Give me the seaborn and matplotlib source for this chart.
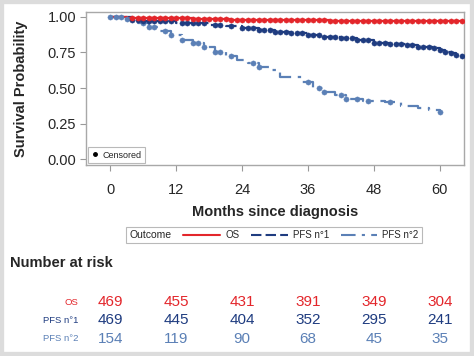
import numpy as np
import pandas as pd
import seaborn as sns
import matplotlib.pyplot as plt
from matplotlib.lines import Line2D
from matplotlib.patches import Rectangle

# Kaplan-Meier steps
os_t = [0, 3, 8, 15, 22, 30, 40, 50, 64]
os_s = [1.0, 0.995, 0.99, 0.985, 0.98, 0.977, 0.974, 0.97, 0.97]
os_cens = [4, 5, 6, 7, 8, 9, 10, 11, 12, 13, 14, 15, 16, 17, 18, 19, 20, 21, 22, 23,
           24, 25, 26, 27, 28, 29, 30, 31, 32, 33, 34, 35, 36, 37, 38, 39, 40, 41, 42,
           43, 44, 45, 46, 47, 48, 49, 50, 51, 52, 53, 54, 55, 56, 57, 58, 59, 60, 61,
           62, 63, 64]

pfs1_t = [0, 4, 6, 9, 12, 15, 18, 21, 24, 27, 30, 33, 36, 39, 42, 45, 48, 51, 54,
          56, 58, 59, 60, 61, 62, 63, 64]
pfs1_s = [1.0, 0.98, 0.975, 0.97, 0.96, 0.955, 0.945, 0.935, 0.92, 0.905, 0.895,
          0.885, 0.875, 0.862, 0.85, 0.835, 0.82, 0.81, 0.8, 0.79, 0.787, 0.78,
          0.765, 0.755, 0.745, 0.735, 0.727]
pfs1_cens = [4, 5, 6, 7, 8, 9, 10, 11, 13, 14, 15, 16, 17, 19, 20, 22, 24, 25, 26,
             27, 28, 29, 30, 31, 32, 33, 34, 35, 36, 37, 38, 39, 40, 41, 42, 43, 44,
             45, 46, 47, 48, 49, 50, 51, 52, 53, 54, 55, 56, 57, 58, 59, 60, 61, 62,
             63, 64]

pfs2_t = [0, 3, 5, 7, 9, 11, 13, 15, 17, 19, 21, 23, 25, 27, 29, 31, 35, 37, 39, 41,
          43, 46, 50, 53, 56, 58, 60]
pfs2_s = [1.0, 0.985, 0.955, 0.93, 0.9, 0.87, 0.835, 0.815, 0.79, 0.755, 0.725, 0.7,
          0.675, 0.65, 0.625, 0.58, 0.54, 0.5, 0.475, 0.45, 0.425, 0.41, 0.4, 0.375,
          0.36, 0.345, 0.33]
pfs2_cens = [0, 1, 2, 3, 6, 7, 8, 10, 11, 13, 15, 16, 17, 19, 20, 22, 26, 27, 36,
             38, 39, 42, 43, 45, 47, 51, 60]

risk_times = [0, 12, 24, 36, 48, 60]
risk_os = [469, 455, 431, 391, 349, 304]
risk_pfs1 = [469, 445, 404, 352, 295, 241]
risk_pfs2 = [154, 119, 90, 68, 45, 35]

RED = '#e3262b'
NAVY = '#1f3c80'
BLUE = '#5b80b6'

sns.set_style('white')
plt.rcParams['font.family'] = ['Liberation Sans', 'DejaVu Sans']


def at(t, s, c):
    idx = np.searchsorted(t, c, side='right') - 1
    return np.asarray(s)[idx]


fig = plt.figure(figsize=(4.74, 3.56), dpi=100)
ax = fig.add_axes([86 / 474, 1 - 165 / 356, 378 / 474, 153 / 356])

curves = [
    ('OS', os_t, os_s, os_cens, RED, '-'),
    ('PFS n°1', pfs1_t, pfs1_s, pfs1_cens, NAVY, (0, (5, 2))),
    ('PFS n°2', pfs2_t, pfs2_s, pfs2_cens, BLUE, (0, (7, 3, 1.5, 3))),
]
handles = [Line2D([], [], color='none')]
labels = ['Outcome']
for name, t, s, cens, col, ls in reversed(curves):
    df = pd.DataFrame({'t': t, 's': s})
    sns.lineplot(data=df, x='t', y='s', ax=ax, color=col, linewidth=1.6,
                 drawstyle='steps-post', estimator=None, sort=False)
    ax.lines[-1].set_linestyle(ls)
    cdf = pd.DataFrame({'t': cens, 's': at(t, s, cens)})
    sns.scatterplot(data=cdf, x='t', y='s', ax=ax, color=col, s=14,
                    edgecolor=col, linewidth=0.3, zorder=3)
for name, t, s, cens, col, ls in curves:
    handles.append(Line2D([], [], color=col, linewidth=1.5, linestyle=ls))
    labels.append(name)

ax.set_xlim(-4.4, 64.4)
ax.set_ylim(-0.042, 1.035)
ax.set_xticks(risk_times)
ax.set_yticks([0, 0.25, 0.5, 0.75, 1.0])
ax.set_yticklabels(['0.00', '0.25', '0.50', '0.75', '1.00'])
ax.tick_params(axis='both', labelsize=10.5, length=4, color='#999999',
               direction='out', pad=3, left=True, bottom=True)
ax.tick_params(axis='x', pad=9)
for sp in ax.spines.values():
    sp.set_color('#a8a8a8')
    sp.set_linewidth(1)
ax.set_xlabel('Months since diagnosis', fontsize=10.5, fontweight='bold', labelpad=6)
ax.set_ylabel('Survival Probability', fontsize=10.5, fontweight='bold', labelpad=14)

cens_leg = ax.legend(handles=[Line2D([], [], color='black', marker='o', markersize=2.5,
                                     linestyle='none')],
                     labels=['Censored'], loc='lower left', fontsize=6.5,
                     frameon=True, fancybox=False, edgecolor='#a8a8a8',
                     handlelength=0.8, handletextpad=0.4, borderpad=0.35,
                     borderaxespad=0.25)
cens_leg.get_frame().set_linewidth(0.8)

leg = fig.legend(handles=handles, labels=labels, ncol=4, loc='center',
                 bbox_to_anchor=(274 / 474, 1 - 235 / 356), fontsize=7,
                 frameon=True, fancybox=False, edgecolor='#a8a8a8',
                 handlelength=3.8, handletextpad=0.5, columnspacing=1.2,
                 borderpad=0.3)
leg.get_frame().set_linewidth(0.8)
first = leg._legend_handle_box.get_children()[0].get_children()[0]
first.get_children()[0].width = 0
first.sep = 0
leg.get_texts()[0].set_fontsize(7.5)

# Number at risk table
fig.text(10 / 474, 1 - 263 / 356, 'Number at risk', fontsize=10.5,
         fontweight='bold', va='center', ha='left')
ax2 = fig.add_axes([86 / 474, 8 / 356, 378 / 474, 55 / 356])
ax2.set_xlim(ax.get_xlim())
ax2.set_ylim(3, 0)
ax2.axis('off')
rows = [('OS', risk_os, RED), ('PFS n°1', risk_pfs1, NAVY), ('PFS n°2', risk_pfs2, BLUE)]
for i, (name, vals, col) in enumerate(rows):
    y = i + 0.5
    ax2.text(-5.8, y, name, color=col, fontsize=6.8, ha='right', va='center')
    for t, v in zip(risk_times, vals):
        ax2.text(t, y, str(v), color=col, fontsize=11, ha='center', va='center')

fig.patches.append(Rectangle((0, 0), 1, 1, transform=fig.transFigure, fill=False,
                             edgecolor='#dcdcdc', linewidth=6, zorder=10))

fig.savefig('out.png', dpi=100)
